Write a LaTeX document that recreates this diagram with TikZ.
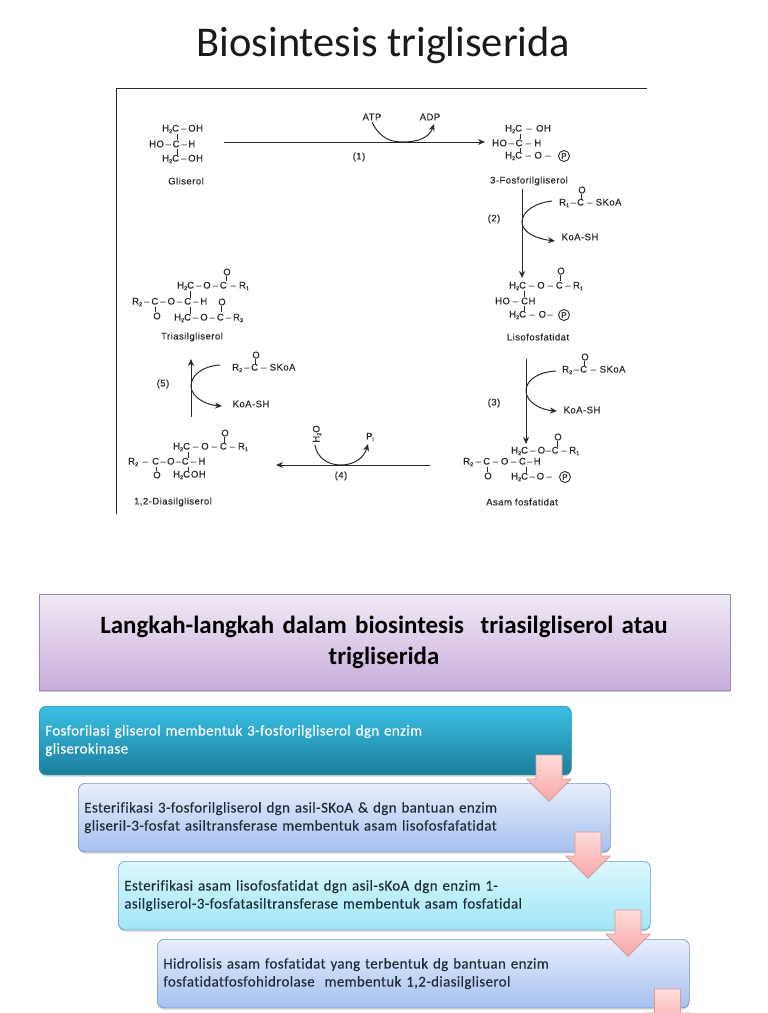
\documentclass[tikz,border=0pt]{standalone}
\usepackage{fontspec}
\setmainfont{Carlito}
\newfontfamily\chemfont[LetterSpace=5,FakeBold=0.25]{Liberation Sans}
\newfontfamily\boxfont[LetterSpace=2.5,Ligatures=NoCommon,FakeBold=0.08]{Carlito}
\usetikzlibrary{shadows,arrows.meta}
\definecolor{ink}{HTML}{2A2A2A}
\definecolor{boxink}{HTML}{1E2A36}
\definecolor{MyPurple}{HTML}{9C86B8}
\definecolor{MyLav}{HTML}{F1E9F6}
\definecolor{MyLavB}{HTML}{C8AEDC}
\definecolor{PinkEdge}{HTML}{D99A9A}
\definecolor{PinkTop}{HTML}{FFDCDC}
\definecolor{PinkBot}{HTML}{F8A6A6}
\definecolor{TealEdge}{HTML}{2A8CA8}
\definecolor{TealTop}{HTML}{3CC0E6}
\definecolor{TealBot}{HTML}{1B7E9A}
\definecolor{BlueEdge}{HTML}{7C93BE}
\definecolor{BlueTop}{HTML}{E8EEFC}
\definecolor{BlueBot}{HTML}{A6C0F0}
\definecolor{CyanEdge}{HTML}{62A9BC}
\definecolor{CyanTop}{HTML}{DDF7FC}
\definecolor{CyanBot}{HTML}{9FE6F8}
\newcommand{\sbs}[1]{\raisebox{-1.6pt}{\fontsize{5.5}{5}\selectfont #1}}
\newcommand{\bs}[1]{\hspace{#1pt}–\hspace{#1pt}}
\tikzset{
  chem/.style={anchor=west,inner sep=0pt,text=ink,font=\chemfont\fontsize{9.5}{10}\selectfont},
  chemmid/.style={inner sep=0pt,text=ink,font=\chemfont\fontsize{9.5}{10}\selectfont},
  pcirc/.style={circle,draw=ink,line width=.9pt,inner sep=.5pt,minimum size=11pt,text=ink,font=\chemfont\fontsize{8}{8}\selectfont},
  bond/.style={draw=ink,line width=.9pt},
  dbl/.style={draw=ink,line width=.7pt,double distance=1pt},
  rxn/.style={draw=ink,line width=1pt,-{Stealth[length=7pt,width=6pt]}},
  cof/.style={draw=ink,line width=1pt,-{Stealth[length=7pt,width=6pt]}},
  frameline/.style={draw=black!85,line width=1pt},
  stepbase/.style={anchor=north west,rounded corners=7pt,minimum width=532pt,minimum height=68.5pt,
    inner sep=0pt,text width=520pt,align=left,line width=.7pt,
    drop shadow={opacity=.35,shadow xshift=0pt,shadow yshift=-1.8pt},
    font=\boxfont\fontsize{14.9}{18}\selectfont},
  hdr/.style={anchor=north west,minimum width=691pt,minimum height=95.5pt,inner sep=0pt,
    draw=MyPurple,line width=.7pt,top color=MyLav,bottom color=MyLavB,
    drop shadow={opacity=.35,shadow xshift=0pt,shadow yshift=-1.8pt}},
  hdrtext/.style={inner sep=0pt,text width=640pt,align=center,
    font=\bfseries\fontsize{24.9}{31}\selectfont,text=black},
  pink/.style={draw=PinkEdge,line width=.7pt,top color=PinkTop,bottom color=PinkBot,
    drop shadow={opacity=.25,shadow xshift=0pt,shadow yshift=-1.2pt}},
}
\newcommand{\pinkarrow}[2]{% x centre, top y
  \path[pink] (#1-13,#2) -- (#1+13,#2) -- (#1+13,#2+24) -- (#1+22,#2+24) -- (#1,#2+46) -- (#1-22,#2+24) -- (#1-13,#2+24) -- cycle;}
\begin{document}
\begin{tikzpicture}[x=1pt,y=-1pt]
\useasboundingbox (0,0) rectangle (768,1013);
\clip (0,0) rectangle (768,1013);
\fill[white] (0,0) rectangle (768,1013);
\node[font=\fontsize{42.4}{46}\selectfont,text=black!90] (title) at (383.5,45.5) {Biosintesis trigliserida};

% figure frame
\coordinate (fa) at (116,514); \coordinate (fb) at (116,88); \coordinate (fc) at (647,88);
\draw[frameline] (fa) -- (fb) -- (fc);

% Gliserol
\node[chem] (g1) at (162,129) {H\sbs{2}C\bs{2}OH};
\node[chem] (g2) at (149,144) {HO\bs{1.7}C\bs{1.8}H};
\node[chem] (g3) at (162,159) {H\sbs{2}C\bs{2}OH};
\draw[bond] (177,133.5) -- (177,139.5) (177,148.5) -- (177,154.5);
\node[chemmid] (g4) at (186,181) {Gliserol};

% 3-Fosforilgliserol
\node[chem] (f1) at (505,129) {H\sbs{2}C\bs{4.4}OH};
\node[chem] (f2) at (492,143) {HO\bs{1.7}C\bs{3.3}H};
\node[chem] (f3) at (505,156) {H\sbs{2}C\bs{3.6}O\bs{3.6}};
\node[pcirc] (f3p) at (564,156) {P};
\draw[bond] (520,133.5) -- (520,138.5) (520,147.5) -- (520,152);
\node[chemmid] (f4) at (529,181) {3-Fosforilgliserol};

% step 1
\coordinate (a1s) at (224,142); \coordinate (a1e) at (485,142);
\draw[rxn] (a1s) -- (a1e);
\node[chemmid] (n1) at (359,157) {(1)};
\node[chemmid] (atp) at (372,117) {ATP};
\node[chemmid] (adp) at (430,117) {ADP};
\coordinate (atpe) at (372,122); \coordinate (adpe) at (434,124);
\draw[cof] (atpe) .. controls (380,139) and (392,142) .. (402,142) .. controls (418,142) and (429,138) .. (adpe);

% step 2
\coordinate (a2s) at (522,189); \coordinate (a2e) at (522,278);
\draw[rxn] (a2s) -- (a2e);
\node[chemmid] (n2) at (494,219) {(2)};
\node[chem] (r1) at (559,203) {R\sbs{1}\bs{1.4}C\bs{3.2}SKoA};
\node[chemmid] (r1o) at (582,190) {O};
\draw[dbl] (582,194) -- (582,199);
\node[chemmid] (koa2) at (580,237) {KoA-SH};
\coordinate (c2s) at (552,201); \coordinate (c2e) at (555,241);
\draw[cof] (c2s) .. controls (534,203) and (522,212) .. (522,222) .. controls (522,233) and (538,239) .. (c2e);

% Lisofosfatidat
\node[chemmid] (l0) at (561,271) {O};
\draw[dbl] (561,275) -- (561,281);
\node[chem] (l1) at (509,286) {H\sbs{2}C\bs{3}O\bs{3}C\bs{2.5}R\sbs{1}};
\node[chem] (l2) at (495,301) {HO\bs{3}CH};
\node[chem] (l3) at (509,315) {H\sbs{2}C\bs{3.7}O\bs{1.4}};
\node[pcirc] (l3p) at (564,315) {P};
\draw[bond] (524.5,290.5) -- (524.5,296.5) (524.5,305.5) -- (524.5,311);
\node[chemmid] (l4) at (538,337) {Lisofosfatidat};

% Triasilgliserol
\node[chemmid] (t0) at (227,272) {O};
\draw[dbl] (227,276) -- (227,281);
\node[chem] (t1) at (177,286) {H\sbs{2}C\bs{2}O\bs{2}C\bs{3.5}R\sbs{1}};
\node[chem] (t2) at (132,302) {R\sbs{2}\bs{2}C\bs{2}O\bs{2}C\bs{2}H};
\node[chemmid] (t2o) at (222,302) {O};
\draw[dbl] (222,306) -- (222,312);
\node[chem] (t3) at (174,318) {H\sbs{2}C\bs{2}O\bs{2}C\bs{2}R\sbs{3}};
\node[chemmid] (t4) at (157,316) {O};
\draw[dbl] (156,306.5) -- (156,311.5);
\draw[bond] (190,290.5) -- (190,297.5) (190,306.5) -- (190,313.5);
\node[chemmid] (t5) at (192,337) {Triasilgliserol};

% step 5
\coordinate (a5s) at (191,417); \coordinate (a5e) at (191,359);
\draw[rxn] (a5s) -- (a5e);
\node[chemmid] (n5) at (163,384) {(5)};
\node[chem] (r5) at (232,368) {R\sbs{2}\bs{1.9}C\bs{3.2}SKoA};
\node[chemmid] (r5o) at (256,355) {O};
\draw[dbl] (256,359) -- (256,364);
\node[chemmid] (koa5) at (251,404) {KoA-SH};
\coordinate (c5s) at (220,365); \coordinate (c5e) at (222,406);
\draw[cof] (c5s) .. controls (203,366) and (191,375) .. (191,386) .. controls (191,397) and (206,405) .. (c5e);

% 1,2-Diasilgliserol
\node[chemmid] (d0) at (225,433) {O};
\draw[dbl] (225,437) -- (225,442.5);
\node[chem] (d1) at (173,447) {H\sbs{2}C\bs{3}O\bs{3}C\bs{3}R\sbs{1}};
\node[chem] (d2) at (128,462) {R\sbs{2}\bs{4.4}C\bs{1.4}O\bs{1}C\bs{2.3}H};
\node[chem] (d3) at (173,475) {H\sbs{2}C\hspace{1pt}OH};
\node[chemmid] (d4) at (157,475) {O};
\draw[dbl] (157,466.5) -- (157,471);
\draw[bond] (188,451.5) -- (188,457.5) (188,466.5) -- (188,471);
\node[chemmid] (d5) at (173,502) {1,2-Diasilgliserol};

% step 4
\coordinate (a4s) at (430,465); \coordinate (a4e) at (276,465);
\draw[rxn] (a4s) -- (a4e);
\node[chemmid] (n4) at (341,476) {(4)};
\node[chemmid,rotate=90] (h2o) at (317,434) {H\sbs{2}O};
\node[chemmid] (pi) at (370,437) {P\sbs{i}};
\coordinate (c4s) at (315,445); \coordinate (c4e) at (368,444);
\draw[cof] (c4s) .. controls (317,458) and (328,465) .. (341,465) .. controls (354,465) and (364,458) .. (c4e);

% step 3
\coordinate (a3s) at (526,359); \coordinate (a3e) at (526,444);
\draw[rxn] (a3s) -- (a3e);
\node[chemmid] (n3) at (494,403) {(3)};
\node[chem] (r3) at (562,370) {R\sbs{2}\bs{1.4}C\bs{3.7}SKoA};
\node[chemmid] (r3o) at (585,357) {O};
\draw[dbl] (585,361) -- (585,366);
\node[chemmid] (koa3) at (582,410) {KoA-SH};
\coordinate (c3s) at (556,371); \coordinate (c3e) at (557,411);
\draw[cof] (c3s) .. controls (538,372) and (526,380) .. (526,391) .. controls (526,402) and (541,410) .. (c3e);

% Asam fosfatidat
\node[chemmid] (s0) at (558,437) {O};
\draw[dbl] (558,441) -- (558,446.5);
\node[chem] (s1) at (511,451) {H\sbs{2}C\bs{2.2}O\bs{.7}C\bs{2.7}R\sbs{1}};
\node[chem] (s2) at (463,462) {R\sbs{2}\bs{2.4}C\bs{2.8}O\bs{2.7}C\bs{1.3}H};
\node[chem] (s3) at (511,477) {H\sbs{2}C\bs{1.7}O\bs{2.3}};
\node[pcirc] (s3p) at (565,477) {P};
\node[chemmid] (s4) at (488,476) {O};
\draw[dbl] (488,466.5) -- (488,472);
\draw[bond] (526,466.5) -- (526,473);
\node[chemmid] (s5) at (522,502) {Asam fosfatidat};

% lower part
\node[hdr] (head) at (39,594) {};
\node[hdrtext] (headtext) at (384,642.5) {Langkah-langkah dalam biosintesis\ \ triasilgliserol atau\\trigliserida};

\node[stepbase,draw=TealEdge,top color=TealTop,bottom color=TealBot,text=white] (b1) at (39,706) {Fosforilasi gliserol membentuk 3-fosforilgliserol dgn enzim\\gliserokinase};
\node[stepbase,draw=BlueEdge,top color=BlueTop,bottom color=BlueBot,text=boxink] (b2) at (78,783) {Esterifikasi 3-fosforilgliserol dgn asil-SKoA \& dgn bantuan enzim\\gliseril-3-fosfat asiltransferase membentuk asam lisofosfafatidat};
\node[stepbase,draw=CyanEdge,top color=CyanTop,bottom color=CyanBot,text=boxink] (b3) at (118,861) {Esterifikasi asam lisofosfatidat dgn asil-sKoA dgn enzim 1-\\asilgliserol-3-fosfatasiltransferase membentuk asam fosfatidal};
\node[stepbase,draw=BlueEdge,top color=BlueTop,bottom color=BlueBot,text=boxink] (b4) at (157,939) {Hidrolisis asam fosfatidat yang terbentuk dg bantuan enzim\\fosfatidatfosfohidrolase\ \ membentuk 1,2-diasilgliserol};

\pinkarrow{549}{755}
\pinkarrow{588}{832}
\pinkarrow{628}{910}
\pinkarrow{667.5}{989}
\end{tikzpicture}
\end{document}
